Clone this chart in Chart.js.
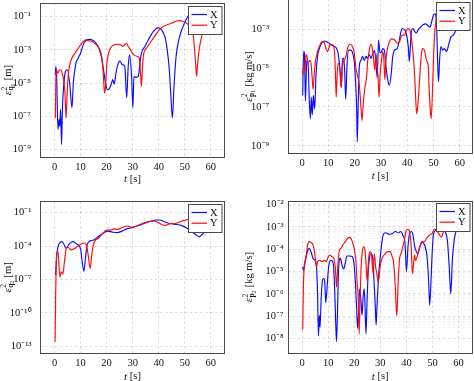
<!DOCTYPE html>
<html><head><meta charset="utf-8">
<script src="https://cdn.jsdelivr.net/npm/chart.js@4.4.0/dist/chart.umd.min.js"></script>
<style>
html,body{margin:0;padding:0;background:#fff;overflow:hidden;width:474px;height:381px;position:relative;}
canvas{position:absolute;}
</style></head><body>
<canvas id="c1" width="237" height="190" style="left:0px;top:0px;width:237px;height:190px"></canvas>
<canvas id="c2" width="237" height="200" style="left:237px;top:-10px;width:237px;height:200px"></canvas>
<canvas id="c3" width="237" height="191" style="left:0px;top:190px;width:237px;height:191px"></canvas>
<canvas id="c4" width="237" height="191" style="left:237px;top:190px;width:237px;height:191px"></canvas>
<script>
// ---------------- data ----------------
const seriesLabels = ['X', 'Y'];
const xTicks = [0, 10, 20, 30, 40, 50, 60];
const q1Ticks = [1e-9, 1e-7, 1e-5, 1e-3, 1e-1];
const p1Ticks = [1e-9, 1e-7, 1e-5, 1e-3];
const q2Ticks = [1e-13, 1e-10, 1e-7, 1e-4, 1e-1];
const p2Ticks = [1e-8, 1e-7, 1e-6, 1e-5, 1e-4, 1e-3, 1e-2];

// top-left: eps^2 q1 [m]
const q1X_t = [0.3,0.5,0.8,1.3,1.7,2.0,2.3,2.7,3.0,3.6,4.2,4.9,5.8,6.7,7.2,8.1,9.1,10,11,11.9,13.2,14.5,15.8,17,18.1,19,19.6,20.3,21.2,21.9,22.4,22.9,23.7,24.5,25.1,26,27,27.7,28.3,28.8,29.6,30.1,30.5,31.3,32.2,32.8,33.4,34.7,36,38,39.9,41.1,42.4,43.3,44.1,44.7,45.3,45.9,46.7,47.9,49.2,50.8,51.8,53,55,57,58.5];
const q1X = [3.2e-5,1e-4,2.5e-5,1.6e-8,6.3e-8,2.5e-8,2.5e-7,2.0e-9,2.5e-7,1e-5,5.0e-5,6.3e-5,1e-5,3.2e-7,1e-5,1.3e-4,3.2e-4,6.3e-4,2.0e-3,3.5e-3,4.3e-3,4.0e-3,2.7e-3,1.3e-3,3.2e-4,4.0e-5,1e-5,4.0e-6,5.0e-6,1e-5,1.6e-5,8.7e-6,5.0e-5,1.6e-4,2.1e-4,1.3e-4,1e-4,1.3e-6,1e-4,5.0e-4,2.5e-5,3.2e-7,2.5e-5,2.2e-5,2.5e-5,1.6e-4,6.3e-4,1.6e-3,4.0e-3,1.3e-2,2.2e-2,1.6e-2,6.3e-3,1e-3,6.3e-5,1.6e-6,7.9e-8,6.3e-6,4.0e-4,5.0e-3,2.2e-2,7.9e-2,0.13,0.16,0.18,0.16,0.14];
const q1Y_t = [0.3,0.6,0.9,1.3,1.9,2.4,2.9,3.5,4.0,4.4,4.9,5.5,6.4,7.4,8.7,10,11,11.9,13.2,14.5,15.8,17,18.1,18.7,19.2,19.6,20,20.6,21.5,22.8,24.1,25.4,26.3,27,27.7,28.3,29.2,29.9,30.5,31.8,32.6,33.1,33.4,33.8,34.3,35.4,36.6,37.9,39.2,41.1,43.1,45,47,48.2,49.5,50.5,51.5,52.5,53.3,53.9,54.3,54.6,54.9,55.4,56.1,56.9,57.5];
const q1Y = [7.9e-8,5.0e-5,5.6e-5,4.0e-5,6.3e-5,6.3e-5,4.0e-5,1.6e-5,2.5e-6,7.9e-8,4.0e-6,6.3e-5,2.5e-4,5.0e-4,1.0e-3,2.0e-3,3.2e-3,4.0e-3,3.5e-3,3.2e-3,2.2e-3,1.3e-3,4.0e-4,4.0e-5,2.5e-6,6.3e-6,1.0e-4,5.0e-4,1.3e-3,2.0e-3,2.2e-3,2.0e-3,1.6e-3,2.1e-3,2.5e-3,1.6e-3,1.0e-3,6.3e-4,5.0e-4,4.0e-4,3.2e-4,2.5e-5,6.3e-6,1.0e-4,6.3e-4,1.3e-3,2.5e-3,5.0e-3,1.0e-2,2.2e-2,3.2e-2,4.0e-2,5.5e-2,5.8e-2,5.0e-2,4.4e-2,3.2e-2,1.6e-2,7.9e-3,6.3e-4,1.0e-4,2.5e-5,1.0e-4,6.3e-4,3.2e-3,1.0e-2,2.0e-2];

// top-right: eps^2 p1 [kg m/s]
const p1X_t = [0.25,0.6,0.9,1.3,1.8,2.3,2.8,3.2,3.5,3.9,4.3,4.8,5.3,5.9,6.6,7.5,8.5,9.4,10.1,11,12.3,13.2,13.8,14.4,14.9,15.4,15.8,16.2,16.6,17.1,17.7,18.6,19.2,19.9,20.4,20.8,21,21.4,21.8,22.4,23,23.7,24.3,24.9,25.6,26.2,26.8,27.6,28.1,28.6,29.1,29.6,30,30.7,31.3,32,32.6,33.2,33.9,34.5,35.2,36.2,36.8,37.5,38.1,39,39.6,40.4,40.8,41.2,41.6,42.2,42.8,43.5,44.1,45.1,46,46.9,48,48.7,49.5,50.3,50.8,51.2,51.5,51.9,52.3,52.8,53.5,54.1,55,55.6,56.6,57.5,58.4,59.2];
const p1X = [4.0e-7,7.1e-5,6.3e-5,2.0e-7,2.5e-5,1.8e-5,1.6e-7,2.5e-8,3.2e-7,4.0e-8,4.0e-7,7.9e-8,4.0e-6,4.0e-5,1.0e-4,2.0e-4,2.5e-4,2.3e-4,2.0e-4,1.6e-4,1.3e-4,1.0e-4,5.0e-5,1.0e-5,1.0e-6,3.2e-5,3.2e-5,7.9e-6,2.5e-7,1.3e-5,8.5e-5,8.5e-5,6.3e-5,2.0e-5,1.6e-6,6.3e-8,1.6e-9,2.5e-7,1.3e-5,2.5e-5,4.0e-5,2.5e-5,4.0e-5,3.2e-5,5.0e-5,3.2e-5,5.0e-5,7.9e-5,2.0e-5,3.2e-6,2.8e-4,6.3e-5,6.3e-5,1.0e-4,8.5e-5,1.0e-5,2.5e-6,1.3e-6,5.0e-6,4.0e-5,8.5e-5,1.0e-4,2.0e-4,6.3e-4,1.1e-3,9.3e-4,6.3e-4,1.3e-4,2.2e-5,1.3e-4,7.9e-4,1.1e-3,7.9e-4,6.3e-4,9.3e-4,1.3e-3,1.7e-3,1.9e-3,1.5e-3,1.3e-3,3.2e-3,6.3e-3,5.6e-3,1.4e-3,4.0e-5,2.0e-6,2.5e-5,1.3e-4,8.5e-5,1.0e-4,7.1e-5,1.3e-4,4.0e-4,5.0e-4,7.9e-4,1.1e-3];
const p1Y_t = [0.25,0.6,1.1,1.5,1.9,2.2,2.6,3.0,3.4,3.8,4.2,4.6,5.1,5.7,6.6,7.6,8.5,9.1,9.7,10.4,11,11.6,12.3,12.7,13,13.4,13.9,14.6,14.9,15.4,16.1,16.7,17.3,18.2,19.2,19.9,20.5,21.1,21.8,22.4,22.8,23.3,23.9,24.6,24.9,25.6,26.2,26.6,27.2,27.7,28.1,28.5,28.9,29.3,29.7,30.1,30.7,31.1,31.5,31.8,32.4,33.2,34.1,35.2,36.2,37.1,37.7,38.4,39,39.6,40.3,40.9,41.6,42.2,42.8,43.2,43.6,44.1,44.8,45.4,46,46.7,47.3,48,48.3,48.7,49.1,49.5,49.9,50.3,50.8,51.3,52.5,54,56,58];
const p1Y = [4.5e-6,1.3e-5,6.3e-6,5.0e-5,4.0e-5,2.1e-5,2.1e-5,2.5e-5,1.8e-5,4.0e-6,7.9e-7,4.0e-6,2.1e-5,5.8e-5,1.3e-4,2.3e-4,2.0e-4,1.0e-4,7.1e-5,1.3e-4,1.7e-4,1.6e-4,8.5e-5,5.0e-6,3.2e-7,6.3e-6,1.8e-5,4.0e-6,1.0e-6,1.3e-5,2.5e-5,4.0e-5,1.0e-4,1.7e-4,1.3e-4,5.8e-5,1.0e-5,4.0e-6,1.3e-6,1.0e-7,2.0e-8,1.6e-7,1.0e-6,4.0e-6,1.8e-5,8.5e-5,1.7e-4,1.3e-4,3.2e-5,7.9e-6,5.8e-5,1.4e-5,4.0e-6,3.2e-7,5.0e-6,1.8e-5,7.1e-5,3.2e-5,2.5e-6,1.8e-5,8.5e-5,2.3e-4,3.2e-4,2.8e-4,1.9e-4,2.3e-4,4.2e-4,5.0e-4,5.0e-4,8.5e-4,1.1e-3,9.3e-4,3.5e-4,5.8e-5,5.0e-6,3.2e-7,4.4e-8,1.6e-7,4.0e-6,5.8e-5,1.0e-4,7.1e-5,2.5e-5,1.3e-5,1.1e-6,1.0e-7,2.5e-8,2.5e-7,1.3e-5,2.8e-4,2.0e-3,4.5e-3,4.0e-3,2.5e-3,2.0e-3,2.5e-3];

// bottom-left: eps^2 q2 [m]
const q2X_t = [0.4,0.8,1.4,2.1,2.8,3.5,4.4,5.5,7.0,8.7,10,10.6,11.3,11.8,12.4,13.2,14.2,15.1,15.8,17.1,19,20.3,22.2,24,25.9,27.8,29.7,31.6,33.5,35.4,37.3,39.2,40.5,41.8,43,44.9,46.8,48.7,50.6,52.5,54.2,55.6,56.7,58,58.9];
const q2X = [2.5e-7,1.3e-5,1.0e-4,2.0e-4,2.5e-4,1.6e-4,6.3e-5,1.4e-4,2.5e-4,1.4e-4,5.6e-5,4.0e-6,5.6e-7,6.3e-6,1.0e-4,2.5e-4,3.2e-4,3.5e-4,4.5e-4,7.9e-4,1.6e-3,2.2e-3,1.8e-3,1.6e-3,2.2e-3,3.5e-3,4.4e-3,6.3e-3,8.9e-3,1.3e-2,1.8e-2,2.2e-2,2.2e-2,1.7e-2,1.3e-2,1.0e-2,8.9e-3,7.2e-3,4.4e-3,2.2e-3,1.1e-3,6.8e-4,1.1e-3,2.2e-3,4.4e-3];
const q2Y_t = [0.2,0.4,0.8,1.3,1.7,2.1,2.6,3.2,3.8,4.5,5.3,6.3,7.4,8.7,10,11.3,12.2,12.9,13.7,14.2,14.8,15.6,17.1,18.4,20,21.5,22.8,24,25.9,27.8,29.7,31.6,33.5,35.4,37.3,38.6,39.9,41.1,42.4,43.7,44.9,46.2,47.5,49.1,50.6,52.5,55,57.5];
const q2Y = [2.5e-13,2.0e-9,1.6e-5,3.2e-5,2.0e-6,1.6e-7,5.0e-7,3.2e-7,4.0e-6,6.3e-5,7.9e-5,4.5e-5,5.6e-5,8.9e-5,1.4e-4,1.9e-4,1.3e-4,1.6e-5,1.0e-6,1.0e-5,1.0e-4,3.2e-4,5.6e-4,1.3e-3,2.7e-3,2.7e-3,3.5e-3,3.2e-3,4.4e-3,6.3e-3,5.0e-3,6.3e-3,1.0e-2,1.4e-2,1.8e-2,1.7e-2,1.3e-2,8.9e-3,7.2e-3,8.9e-3,1.1e-2,1.0e-2,1.3e-2,1.8e-2,2.2e-2,2.9e-2,4.0e-2,5.0e-2];

// bottom-right: eps^2 p2 [kg m/s]
const p2X_t = [0.25,0.6,1.0,1.5,2.2,2.8,3.4,4.2,4.9,5.5,5.9,6.3,6.6,6.9,7.3,7.8,8.3,8.7,9.1,9.6,10.1,10.6,11.2,11.7,12.1,12.5,12.9,13.2,13.5,14,14.7,15.3,16,16.6,17.2,18.3,19.2,19.8,20.4,20.9,21.3,21.7,22.1,22.6,23,23.4,23.8,24.1,24.5,24.9,25.4,25.9,26.4,27,27.5,28,28.4,28.7,29.4,30,30.7,31.3,32.2,33.2,34.5,35.8,37,37.8,38.6,39.5,40.0,40.6,41.2,41.9,42.5,43.2,43.8,44.4,45.1,46,46.9,47.9,48.5,48.9,49.3,49.8,50.4,51.3,52.4,53.5,54.8,55.7,56.4,57,57.6,58.3,59.2];
const p2X = [1.6e-5,1.1e-5,2.0e-5,4.0e-5,9.1e-5,1.1e-4,7.9e-5,4.0e-5,3.2e-5,2.0e-5,1.6e-6,1.3e-8,1.1e-7,3.2e-8,5.0e-7,4.0e-6,5.0e-6,3.2e-6,4.0e-7,2.0e-6,1.3e-5,2.8e-5,3.2e-5,2.8e-5,1.6e-5,1.6e-6,5.0e-8,7.1e-9,6.3e-8,1.3e-5,4.0e-5,2.0e-5,1.3e-5,2.5e-5,5.0e-5,5.0e-5,4.7e-5,2.8e-5,4.0e-6,2.5e-7,2.8e-8,2.0e-7,1.7e-6,4.4e-7,1.1e-7,7.4e-7,1.7e-6,4.0e-7,1.6e-8,4.0e-7,1.2e-5,4.7e-5,6.3e-5,4.7e-5,5.9e-6,4.0e-7,4.0e-8,2.5e-7,7.9e-6,4.7e-5,2.5e-4,5.0e-4,5.5e-4,4.7e-4,5.0e-4,6.3e-4,5.5e-4,6.3e-4,4.4e-4,1.6e-4,1.0e-5,1.3e-4,5.0e-4,6.3e-4,4.4e-4,1.3e-4,7.9e-5,6.3e-5,1.3e-4,2.2e-4,1.6e-4,4.7e-5,4.0e-6,3.2e-7,1.6e-6,4.7e-5,5.0e-4,7.2e-4,1.4e-3,1.0e-3,6.3e-4,2.5e-4,1.6e-5,1.0e-6,3.2e-5,2.5e-4,7.9e-4];
const p2Y_t = [0.25,0.5,0.8,1.1,1.7,2.2,2.8,3.4,4.2,4.9,5.5,6.0,6.8,7.7,8.6,9.3,9.8,10.6,11.4,12.1,12.8,13.2,13.7,14.2,14.9,15.7,16.6,17.6,18.3,18.9,19.5,20.2,20.7,21.1,21.5,21.9,22.2,22.6,23.1,23.6,24.1,24.5,24.9,25.3,25.7,26.2,26.7,27.2,27.7,28.2,28.7,29.2,29.8,30.3,31,31.9,32.8,33.8,34.5,35.1,35.7,36.3,36.8,37.3,37.9,38.5,39.2,39.8,40.4,41,41.5,41.9,42.3,42.7,43.1,43.5,43.9,44.3,45.1,46,46.9,47.9,48.9,49.8,50.7,51.5,52.4,53.4,54.5,56,58];
const p2Y = [2.5e-8,1.6e-6,1.6e-5,2.8e-5,6.3e-5,1.8e-4,2.2e-4,2.0e-4,1.6e-4,6.3e-5,1.6e-5,2.8e-5,3.2e-5,2.8e-5,3.2e-5,2.8e-5,4.0e-5,5.5e-5,4.7e-5,4.0e-5,1.3e-5,2.0e-6,1.6e-5,7.9e-5,1.1e-4,1.6e-4,2.2e-4,3.2e-4,3.4e-4,2.8e-4,1.8e-4,7.9e-5,2.5e-5,3.2e-6,7.9e-7,1.6e-8,4.0e-7,1.3e-5,7.9e-5,1.3e-4,9.1e-5,2.5e-5,4.0e-6,1.6e-5,6.3e-5,7.9e-5,4.7e-5,7.9e-6,6.3e-5,1.6e-5,7.9e-6,3.2e-6,1.3e-5,2.8e-5,4.7e-5,6.3e-5,7.9e-5,7.9e-5,4.7e-5,2.5e-5,2.5e-6,1.0e-7,2.5e-6,3.2e-5,6.3e-5,1.1e-4,2.5e-4,6.3e-4,7.9e-4,7.2e-4,3.6e-4,9.1e-5,7.9e-6,2.0e-5,5.5e-5,3.2e-5,4.0e-5,5.5e-5,1.3e-4,2.0e-4,2.2e-4,3.2e-4,4.4e-4,5.0e-4,7.9e-4,7.2e-4,5.0e-4,3.5e-4,7.9e-4,1.3e-3,1.6e-3];

// ---------------- styling / layout ----------------
const SERIF = '"Liberation Serif", "Times New Roman", serif';
const BLUE = '#0a0aff', RED = '#ff0a0a';
const GRID = 'rgba(0,0,0,0.17)', GRID_MINOR = 'rgba(0,0,0,0.06)';
const SUP = {'-':'\u207B','0':'\u2070','1':'\u00B9','2':'\u00B2','3':'\u00B3','4':'\u2074','5':'\u2075','6':'\u2076','7':'\u2077','8':'\u2078','9':'\u2079'};
function powLabel(v) {
  const e = Math.log10(v), r = Math.round(e);
  if (Math.abs(e - r) > 1e-6) return '';
  return '10' + String(r).split('').map(c => SUP[c]).join('');
}
function pts(t, v) { return t.map((x, i) => ({x: x, y: v[i]})); }

function drawYTitle(ctx, cx, cy, subL, subN, unit) {
  ctx.save();
  ctx.translate(cx, cy);
  ctx.rotate(-Math.PI / 2);
  ctx.fillStyle = '#111';
  ctx.textBaseline = 'alphabetic';
  const fE = 'italic 11px ' + SERIF, fSup = '7.5px ' + SERIF, fSub = 'bold 7.5px ' + SERIF, fSS = '5.5px ' + SERIF, fU = '10.5px ' + SERIF;
  const w = (f, t) => { ctx.font = f; return ctx.measureText(t).width; };
  const wE = w(fE, '\u03B5'), wSup = w(fSup, '2'), wQ = w(fSub, subL), wN = w(fSS, subN);
  const adv = Math.max(wSup, wQ + wN) + 0.8;
  const wU = w(fU, ' ' + unit);
  let x = -(wE + adv + wU) / 2;
  const base = 3.5;
  ctx.font = fE; ctx.fillText('\u03B5', x, base);
  x += wE + 0.4;
  ctx.font = fSup; ctx.fillText('2', x, base - 4.5);
  ctx.font = fSub; ctx.fillText(subL, x, base + 2.2);
  ctx.font = fSS; ctx.fillText(subN, x + wQ, base + 3.8);
  x += adv;
  ctx.font = fU; ctx.fillText(' ' + unit, x, base);
  ctx.restore();
}
function drawXTitle(ctx, cx, cy) {
  ctx.save();
  ctx.fillStyle = '#111';
  ctx.textBaseline = 'middle';
  const fT = 'italic 11px ' + SERIF, fU = '10.5px ' + SERIF;
  ctx.font = fT; const w1 = ctx.measureText('t').width;
  ctx.font = fU; const w2 = ctx.measureText(' [s]').width;
  let x = cx - (w1 + w2) / 2;
  ctx.font = fT; ctx.fillText('t', x, cy);
  ctx.font = fU; ctx.fillText(' [s]', x + w1, cy);
  ctx.restore();
}

const decor = {
  id: 'decor',
  afterDraw(chart) {
    const o = chart.options.plugins.decor;
    const ctx = chart.ctx, a = chart.chartArea;
    ctx.save();
    // axis frame
    ctx.strokeStyle = '#4a4a4a'; ctx.lineWidth = 1;
    const L = Math.round(a.left) + 0.5, T = Math.round(a.top) + 0.5, R = Math.round(a.right) - 0.5, B = Math.round(a.bottom) - 0.5;
    ctx.strokeRect(L, T, R - L, B - T);
    // legend
    const lw = 33.5, lh = 28;
    const bx = Math.round(a.right - 3.5 - lw), by = Math.round(a.top + 2.5);
    ctx.fillStyle = '#fff'; ctx.fillRect(bx, by, lw, lh);
    ctx.strokeStyle = '#4a4a4a'; ctx.strokeRect(bx + 0.5, by + 0.5, lw, lh);
    chart.data.datasets.forEach((ds, i) => {
      const yy = by + 8.5 + i * 10.7;
      ctx.strokeStyle = ds.borderColor; ctx.lineWidth = 1.2;
      ctx.beginPath(); ctx.moveTo(bx + 3.5, yy); ctx.lineTo(bx + 19, yy); ctx.stroke();
      ctx.fillStyle = '#111'; ctx.font = '10.5px ' + SERIF; ctx.textBaseline = 'middle';
      ctx.fillText(ds.label, bx + 22, yy + 0.5);
    });
    ctx.restore();
    drawXTitle(ctx, (a.left + a.right) / 2, a.bottom + o.xTitleOff);
    drawYTitle(ctx, a.left - o.yTitleOff, (a.top + a.bottom) / 2, o.sub[0], o.sub[1], o.unit);
  }
};

function makePanel(p) {
  const majors = p.yTicks;
  let yTickList = majors.slice();
  if (p.minor) {
    yTickList = [];
    majors.forEach(m => { for (let k = 1; k <= 9; k++) { const v = m * k; if (v >= p.ymin && v <= p.ymax) yTickList.push(v); } });
  }
  const isMajor = v => { const e = Math.log10(v); return Math.abs(e - Math.round(e)) < 1e-6; };
  return new Chart(document.getElementById(p.id), {
    type: 'line',
    data: {
      datasets: [
        { label: seriesLabels[0], data: pts(p.X[0], p.X[1]), borderColor: BLUE, backgroundColor: BLUE, order: 1 },
        { label: seriesLabels[1], data: pts(p.Y[0], p.Y[1]), borderColor: RED, backgroundColor: RED, order: 0 }
      ]
    },
    options: {
      responsive: false, animation: false, events: [],
      layout: { padding: { top: p.padTop, right: p.padRight, left: 0, bottom: 0 } },
      elements: { point: { radius: 0 }, line: { borderWidth: 1.15, cubicInterpolationMode: 'monotone', fill: false } },
      plugins: { legend: { display: false }, tooltip: { enabled: false }, decor: { xTitleOff: p.xTitleOff, yTitleOff: p.yTitleOff, sub: p.sub, unit: p.unit } },
      scales: {
        x: {
          type: 'linear', min: p.xmin, max: p.xmax, bounds: 'data',
          afterBuildTicks: s => { s.ticks = xTicks.map(v => ({ value: v })); },
          afterFit: s => { s.height = p.xH; s.paddingLeft = 0; s.paddingRight = 0; },
          grid: { color: GRID, lineWidth: 0.8, drawTicks: false },
          border: { display: false, dash: [2.5, 2.5] },
          ticks: { font: { family: SERIF, size: 10.5 }, color: '#111', padding: 3, maxRotation: 0, autoSkip: false, callback: v => String(v) }
        },
        y: {
          type: 'logarithmic', min: p.ymin, max: p.ymax, bounds: 'data',
          afterBuildTicks: s => { s.ticks = yTickList.map(v => ({ value: v })); },
          afterFit: s => { s.width = p.yW; s.paddingTop = 0; s.paddingBottom = 0; },
          grid: { color: c => (c.tick && !isMajor(c.tick.value)) ? GRID_MINOR : GRID, lineWidth: 0.8, drawTicks: false },
          border: { display: false, dash: [2.5, 2.5] },
          ticks: { font: { family: SERIF, size: 10.5 }, color: '#111', padding: p.tickPad, autoSkip: false, callback: v => powLabel(v) }
        }
      }
    },
    plugins: [decor]
  });
}

makePanel({ id: 'c1', yW: 40, padTop: 3.3, padRight: 12, xH: 32.5, xmin: -5.6, xmax: 65.5,
  ymin: Math.pow(10, -9.49), ymax: Math.pow(10, -0.19), yTicks: q1Ticks, tickPad: 9,
  yTitleOff: 32.5, xTitleOff: 21.5, sub: ['q', '1'], unit: '[m]', X: [q1X_t, q1X], Y: [q1Y_t, q1Y] });
makePanel({ id: 'c2', yW: 50.7, padTop: 9, padRight: 1.3, xH: 35.7, xmin: -5.45, xmax: 64.9,
  ymin: Math.pow(10, -9.44), ymax: Math.pow(10, -1.44), yTicks: p1Ticks, tickPad: 18.5,
  yTitleOff: 39.7, xTitleOff: 21.7, sub: ['p', '1'], unit: '[kg m/s]', X: [p1X_t, p1X], Y: [p1Y_t, p1Y] });
makePanel({ id: 'c3', yW: 40, padTop: 11.3, padRight: 12, xH: 27, xmin: -5.6, xmax: 65.5,
  ymin: Math.pow(10, -13.69), ymax: Math.pow(10, 0.02), yTicks: q2Ticks, tickPad: 8.5,
  yTitleOff: 33, xTitleOff: 22.7, sub: ['q', '2'], unit: '[m]', X: [q2X_t, q2X], Y: [q2Y_t, q2Y] });
makePanel({ id: 'c4', yW: 50.7, padTop: 10.7, padRight: 1.3, xH: 27, xmin: -5.5, xmax: 65.4,
  ymin: Math.pow(10, -8.70), ymax: Math.pow(10, -1.82), yTicks: p2Ticks, tickPad: 4, minor: true,
  yTitleOff: 39.2, xTitleOff: 22.7, sub: ['p', '2'], unit: '[kg m/s]', X: [p2X_t, p2X], Y: [p2Y_t, p2Y] });
</script>
</body></html>
